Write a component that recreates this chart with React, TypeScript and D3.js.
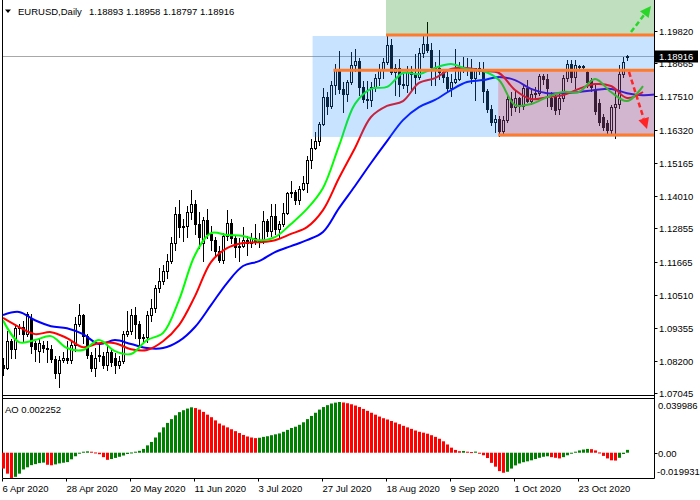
import React from 'react';
import * as d3 from 'd3';

// daily EURUSD bars, 6 Apr 2020 .. 9 Nov 2020 (index 0 = first bar)
const opens = [
  1.0805, 1.0795, 1.0890, 1.0860, 1.0935, 1.0938, 1.0915, 1.0970, 1.0880, 1.0855,
  1.0875, 1.0865, 1.0860, 1.0825, 1.0775, 1.0822, 1.0830, 1.0822, 1.0875, 1.0950,
  1.0980, 1.0905, 1.0840, 1.0795, 1.0840, 1.0837, 1.0805, 1.0850, 1.0830, 1.0805,
  1.0820, 1.0915, 1.0925, 1.0980, 1.0950, 1.0900, 1.0902, 1.0980, 1.1005, 1.1075,
  1.1100, 1.1135, 1.1170, 1.1235, 1.1335, 1.1290, 1.1295, 1.1345, 1.1370, 1.1300,
  1.1235, 1.1315, 1.1265, 1.1245, 1.1205, 1.1175, 1.1260, 1.1305, 1.1250, 1.1220,
  1.1222, 1.1245, 1.1233, 1.1250, 1.1240, 1.1245, 1.1310, 1.1275, 1.1330, 1.1285,
  1.1300, 1.1340, 1.1410, 1.1412, 1.1385, 1.1425, 1.1445, 1.1525, 1.1570, 1.1595,
  1.1655, 1.1750, 1.1717, 1.1790, 1.1848, 1.1778, 1.1760, 1.1800, 1.1860, 1.1875,
  1.1785, 1.1740, 1.1738, 1.1785, 1.1815, 1.1842, 1.1870, 1.1930, 1.1835, 1.1850,
  1.1795, 1.1792, 1.1835, 1.1830, 1.1820, 1.1905, 1.1935, 1.1915, 1.1855, 1.1850,
  1.1837, 1.1820, 1.1780, 1.1800, 1.1812, 1.1845, 1.1845, 1.1845, 1.1815, 1.1850,
  1.1840, 1.1770, 1.1705, 1.1660, 1.1670, 1.1630, 1.1668, 1.1740, 1.1712, 1.1745,
  1.1715, 1.1780, 1.1735, 1.1760, 1.1762, 1.1822, 1.1812, 1.1745, 1.1752, 1.1705,
  1.1745, 1.1815, 1.1865, 1.1818, 1.1858, 1.1856, 1.1836, 1.1808, 1.1772, 1.1727,
  1.1678, 1.1657, 1.1632, 1.1712, 1.1722, 1.1830, 1.18893,
];
const highs = [
  1.0830, 1.0925, 1.0895, 1.0950, 1.0950, 1.0960, 1.0990, 1.0985, 1.0890, 1.0895,
  1.0890, 1.0888, 1.0875, 1.0835, 1.0835, 1.0850, 1.0890, 1.0890, 1.0972, 1.1019,
  1.0985, 1.0915, 1.0850, 1.0865, 1.0875, 1.0850, 1.0870, 1.0865, 1.0845, 1.0835,
  1.0925, 1.0995, 1.1000, 1.1008, 1.0960, 1.0915, 1.0995, 1.1035, 1.1085, 1.1147,
  1.1155, 1.1195, 1.1255, 1.1360, 1.1384, 1.1320, 1.1363, 1.1422, 1.1385, 1.1345,
  1.1325, 1.1355, 1.1295, 1.1255, 1.1225, 1.1270, 1.1349, 1.1320, 1.1260, 1.1250,
  1.1290, 1.1260, 1.1270, 1.1300, 1.1270, 1.1346, 1.1320, 1.1370, 1.1370, 1.1310,
  1.1375, 1.1415, 1.1452, 1.1420, 1.1435, 1.1470, 1.1540, 1.1601, 1.1625, 1.1660,
  1.1781, 1.1765, 1.1805, 1.1865, 1.1909, 1.1800, 1.1810, 1.1908, 1.1916, 1.1885,
  1.1806, 1.1805, 1.1800, 1.1830, 1.1865, 1.1885, 1.1966, 1.1952, 1.1865, 1.1883,
  1.1830, 1.1859, 1.1858, 1.1900, 1.1920, 1.1965, 1.2011, 1.1937, 1.1870, 1.1915,
  1.1848, 1.1835, 1.1830, 1.1917, 1.1872, 1.1888, 1.1887, 1.1882, 1.1850, 1.1872,
  1.1872, 1.1775, 1.1720, 1.1685, 1.1680, 1.1683, 1.1752, 1.1765, 1.1770, 1.1750,
  1.1795, 1.1808, 1.1780, 1.1785, 1.1831, 1.1830, 1.1828, 1.1765, 1.1760, 1.1760,
  1.1825, 1.1880, 1.1880, 1.1880, 1.1862, 1.1860, 1.1842, 1.1815, 1.1790, 1.1740,
  1.1690, 1.1668, 1.1720, 1.1770, 1.1860, 1.1890, 1.18958,
];
const lows = [
  1.0769, 1.0790, 1.0830, 1.0830, 1.0915, 1.0890, 1.0905, 1.0845, 1.0817, 1.0815,
  1.0850, 1.0815, 1.0815, 1.0757, 1.0727, 1.0815, 1.0810, 1.0810, 1.0855, 1.0940,
  1.0880, 1.0830, 1.0782, 1.0766, 1.0820, 1.0795, 1.0786, 1.0800, 1.0775, 1.0795,
  1.0810, 1.0905, 1.0915, 1.0900, 1.0870, 1.0885, 1.0885, 1.0960, 1.0990, 1.1060,
  1.1090, 1.1110, 1.1165, 1.1210, 1.1255, 1.1240, 1.1255, 1.1320, 1.1265, 1.1215,
  1.1170, 1.1250, 1.1210, 1.1185, 1.1168, 1.1165, 1.1245, 1.1235, 1.1185, 1.1170,
  1.1220, 1.1190, 1.1220, 1.1230, 1.1220, 1.1235, 1.1260, 1.1260, 1.1265, 1.1250,
  1.1295, 1.1335, 1.1395, 1.1370, 1.1370, 1.1420, 1.1415, 1.1500, 1.1565, 1.1580,
  1.1650, 1.1690, 1.1708, 1.1760, 1.1762, 1.1696, 1.1735, 1.1793, 1.1840, 1.1754,
  1.1730, 1.1711, 1.1716, 1.1770, 1.1790, 1.1815, 1.1865, 1.1830, 1.1754, 1.1753,
  1.1780, 1.1766, 1.1772, 1.1762, 1.1812, 1.1890, 1.1907, 1.1789, 1.1790, 1.1812,
  1.1801, 1.1765, 1.1752, 1.1796, 1.1810, 1.1835, 1.1825, 1.1799, 1.1737, 1.1830,
  1.1730, 1.1695, 1.1650, 1.1626, 1.1612, 1.1622, 1.1660, 1.1685, 1.1700, 1.1695,
  1.1705, 1.1730, 1.1725, 1.1745, 1.1755, 1.1795, 1.1718, 1.1705, 1.1690, 1.1690,
  1.1735, 1.1805, 1.1800, 1.1780, 1.1850, 1.1850, 1.1785, 1.1770, 1.1690, 1.1650,
  1.1632, 1.1622, 1.1620, 1.1603, 1.1710, 1.1820, 1.18797,
];
const closes = [
  1.0795, 1.0890, 1.0860, 1.0935, 1.0938, 1.0915, 1.0985, 1.0870, 1.0860, 1.0880,
  1.0865, 1.0860, 1.0825, 1.0775, 1.0822, 1.0830, 1.0822, 1.0875, 1.0950, 1.0980,
  1.0905, 1.0840, 1.0795, 1.0830, 1.0837, 1.0805, 1.0850, 1.0815, 1.0805, 1.0820,
  1.0915, 1.0925, 1.0980, 1.0950, 1.0900, 1.0902, 1.0980, 1.1005, 1.1075, 1.1100,
  1.1135, 1.1170, 1.1235, 1.1335, 1.1290, 1.1295, 1.1345, 1.1370, 1.1300, 1.1255,
  1.1315, 1.1265, 1.1245, 1.1205, 1.1175, 1.1260, 1.1305, 1.1250, 1.1220, 1.1222,
  1.1245, 1.1233, 1.1250, 1.1240, 1.1245, 1.1310, 1.1275, 1.1330, 1.1285, 1.1300,
  1.1340, 1.1410, 1.1412, 1.1385, 1.1425, 1.1445, 1.1525, 1.1570, 1.1595, 1.1655,
  1.1750, 1.1717, 1.1790, 1.1848, 1.1778, 1.1760, 1.1800, 1.1860, 1.1875, 1.1785,
  1.1740, 1.1738, 1.1785, 1.1815, 1.1842, 1.1870, 1.1930, 1.1835, 1.1850, 1.1795,
  1.1792, 1.1835, 1.1830, 1.1820, 1.1905, 1.1935, 1.1915, 1.1855, 1.1850, 1.1837,
  1.1820, 1.1780, 1.1800, 1.1812, 1.1845, 1.1845, 1.1845, 1.1815, 1.1850, 1.1840,
  1.1770, 1.1705, 1.1660, 1.1670, 1.1630, 1.1668, 1.1740, 1.1712, 1.1745, 1.1715,
  1.1780, 1.1735, 1.1760, 1.1762, 1.1822, 1.1812, 1.1780, 1.1715, 1.1703, 1.1745,
  1.1815, 1.1865, 1.1818, 1.1860, 1.1855, 1.1854, 1.1801, 1.1784, 1.1700, 1.1660,
  1.1643, 1.1632, 1.1713, 1.1722, 1.1830, 1.1873, 1.18916,
];

// Awesome Oscillator, one value per bar
const aoValues = [
  -0.0125, -0.0165, -0.0199, -0.0190, -0.0165, -0.0132, -0.0115, -0.0098, -0.0090, -0.0082,
  -0.0078, -0.0095, -0.0099, -0.0092, -0.0084, -0.0079, -0.0074, -0.0052, -0.0028, -0.0004,
  0.0008, 0.0011, 0.0008, 0.0002, -0.0012, -0.0035, -0.0056, -0.0050, -0.0041, -0.0032,
  -0.0022, -0.0010, 0.0002, 0.0008, 0.0015, 0.0030, 0.0058, 0.0085, 0.0120, 0.0160,
  0.0200, 0.0235, 0.0265, 0.0295, 0.0320, 0.0335, 0.0348, 0.0358, 0.0352, 0.0340,
  0.0322, 0.0300, 0.0280, 0.0255, 0.0230, 0.0215, 0.0200, 0.0185, 0.0170, 0.0155,
  0.0140, 0.0128, 0.0120, 0.0115, 0.0118, 0.0125, 0.0130, 0.0138, 0.0145, 0.0152,
  0.0165, 0.0180, 0.0195, 0.0205, 0.0220, 0.0240, 0.0265, 0.0290, 0.0315, 0.0340,
  0.0360, 0.0375, 0.0388, 0.0395, 0.03999, 0.0396, 0.0390, 0.0382, 0.0372, 0.0360,
  0.0345, 0.0330, 0.0315, 0.0300, 0.0285, 0.0272, 0.0262, 0.0250, 0.0238, 0.0225,
  0.0212, 0.0200, 0.0188, 0.0175, 0.0165, 0.0158, 0.0150, 0.0138, 0.0125, 0.0110,
  0.0090, 0.0065, 0.0040, 0.0022, 0.0012, 0.0014, 0.0008, 0.0005, 0.0009, -0.0003,
  -0.0020, -0.0042, -0.0080, -0.0110, -0.0145, -0.0158, -0.0150, -0.0125, -0.0100, -0.0085,
  -0.0075, -0.0068, -0.0060, -0.0050, -0.0040, -0.0032, -0.0028, -0.0035, -0.0040, -0.0045,
  -0.0035, -0.0020, -0.0005, 0.0008, 0.0018, 0.0025, 0.0030, 0.0028, 0.0018, 0.0002,
  -0.0025, -0.0045, -0.0060, -0.0062, -0.0040, -0.0010, 0.002252,
];

// Alligator lines, read every 4th bar (they run a few bars past the last candle)
const lineStep = 4;
const jaw = [
  1.0980, 1.0991, 1.0962, 1.0941, 1.0934, 1.0913, 1.0878, 1.0892, 1.0878, 1.0864,
  1.0864, 1.0888, 1.0938, 1.1015, 1.1093, 1.1153, 1.1170, 1.1202, 1.1223, 1.1244,
  1.1273, 1.1357, 1.1435, 1.1516, 1.1593, 1.1667, 1.1713, 1.1738, 1.1773, 1.1801,
  1.1808, 1.1819, 1.1808, 1.1777, 1.1762, 1.1762, 1.1766, 1.1773, 1.1777, 1.1762,
  1.1755, 1.1759,
];
const teeth = [
  1.0970, 1.0938, 1.0913, 1.0920, 1.0899, 1.0867, 1.0881, 1.0881, 1.0860, 1.0857,
  1.0888, 1.0945, 1.1047, 1.1167, 1.1216, 1.1234, 1.1237, 1.1244, 1.1266, 1.1290,
  1.1350, 1.1463, 1.1569, 1.1678, 1.1717, 1.1734, 1.1798, 1.1815, 1.1847, 1.1851,
  1.1840, 1.1833, 1.1773, 1.1741, 1.1748, 1.1755, 1.1777, 1.1794, 1.1787, 1.1745,
  1.1766,
];
const lips = [
  1.0962, 1.0885, 1.0892, 1.0906, 1.0864, 1.0857, 1.0892, 1.0853, 1.0843, 1.0892,
  1.0917, 1.1033, 1.1192, 1.1269, 1.1262, 1.1259, 1.1244, 1.1255, 1.1301, 1.1354,
  1.1428, 1.1576, 1.1724, 1.1777, 1.1784, 1.1833, 1.1829, 1.1851, 1.1865, 1.1847,
  1.1840, 1.1808, 1.1720, 1.1724, 1.1748, 1.1766, 1.1766, 1.1812, 1.1766, 1.1734,
  1.1787,
];

const priceTicks = [1.1982, 1.18665, 1.1751, 1.1632, 1.15165, 1.1401, 1.12855, 1.11665, 1.1051, 1.09355, 1.082, 1.07045];
const dateLabels = ['6 Apr 2020', '28 Apr 2020', '20 May 2020', '11 Jun 2020', '3 Jul 2020', '27 Jul 2020', '18 Aug 2020', '9 Sep 2020', '1 Oct 2020', '23 Oct 2020'];
const dateBars = [0, 16, 32, 48, 64, 80, 96, 112, 128, 144];

// boxes drawn over the chart: start bar, top and bottom price
const boxStart = [95.75, 77.4, 123.8];
const boxHigh = [1.215, 1.19633, 1.18424];
const boxLow = [1.19668, 1.16076, 1.16145];
const boxFill = ['rgba(0,128,0,0.25)', 'rgba(30,144,255,0.25)', 'rgba(255,0,10,0.2)'];

// horizontal levels
const levelPrice = [1.19668, 1.18424, 1.16145];
const levelStart = [95.75, 82.6, 123.8];

// forecast arrows: [bar, price] from -> to
const arrowFrom = [[157, 1.19774], [156.5, 1.18365]];
const arrowTo = [[162, 1.2069], [161, 1.16356]];
const arrowColor = ['#2bd62b', '#ff2525'];

const font = '"Liberation Sans", Arial, sans-serif';
const fs = 9.5;

const x = d3.scaleLinear().domain([0, 156]).range([3, 627]);
const y = d3.scaleLinear().domain([1.07045, 1.1982]).range([393.3, 30.7]);
const yAo = d3.scaleLinear().domain([-0.019931, 0.039986]).range([478, 402]);

const right = 654.5;
const mainBottom = 395.5;
const aoTop = 398.5;
const aoBottom = 478.5;

const px = (i: number) => Math.round(x(i)) + 0.5;

const alligator = (vals: number[]) =>
  d3
    .line<number>()
    .x((_, k) => x(k * lineStep))
    .y((v) => y(v))
    .curve(d3.curveCatmullRom)(vals) as string;

const Arrow = ({ k }: { k: number }) => {
  const x1 = x(arrowFrom[k][0]);
  const y1 = y(arrowFrom[k][1]);
  const x2 = x(arrowTo[k][0]);
  const y2 = y(arrowTo[k][1]);
  const len = Math.hypot(x2 - x1, y2 - y1);
  const ux = (x2 - x1) / len;
  const uy = (y2 - y1) / len;
  const hl = 11;
  const hw = 5.5;
  const bx = x2 - ux * hl;
  const by = y2 - uy * hl;
  const head = `M${x2},${y2}L${bx - uy * hw},${by + ux * hw}L${bx + uy * hw},${by - ux * hw}Z`;
  return (
    <g>
      <line x1={x1} y1={y1} x2={bx} y2={by} stroke={arrowColor[k]} strokeWidth={2.5} strokeDasharray="5,3" />
      <path d={head} fill={arrowColor[k]} />
    </g>
  );
};

export default function App() {
  const last = closes[closes.length - 1];
  const yLast = Math.round(y(last)) + 0.5;

  return (
    <svg
      width={700}
      height={500}
      style={{ position: 'absolute', left: 0, top: 0, background: '#fff' }}
      fontFamily={font}
      fontSize={fs}
    >
      <defs>
        <clipPath id="mainClip">
          <rect x={3} y={0} width={right - 3} height={mainBottom} />
        </clipPath>
      </defs>

      <g clipPath="url(#mainClip)">
        {/* bid line */}
        <line x1={3} x2={right} y1={yLast} y2={yLast} stroke="#a8a8a8" />

        {/* candles */}
        {closes.map((c, i) => {
          const o = opens[i];
          const cx = px(i);
          const top = Math.round(y(Math.max(o, c))) + 0.5;
          const bot = Math.round(y(Math.min(o, c))) + 0.5;
          return (
            <g key={i}>
              <line x1={cx} x2={cx} y1={Math.round(y(highs[i]))} y2={Math.round(y(lows[i])) + 1} stroke="#000" />
              <rect x={cx - 1} y={top} width={2} height={Math.max(bot - top, 0)} fill={c >= o ? '#fff' : '#000'} stroke="#000" />
            </g>
          );
        })}

        {/* alligator */}
        <path d={alligator(jaw)} fill="none" stroke="#0000ff" strokeWidth={2} />
        <path d={alligator(teeth)} fill="none" stroke="#ff0000" strokeWidth={2} />
        <path d={alligator(lips)} fill="none" stroke="#00ff00" strokeWidth={2} />

        {/* boxes */}
        {boxStart.map((s, k) => (
          <rect
            key={k}
            x={x(s)}
            y={y(boxHigh[k])}
            width={right - x(s)}
            height={y(boxLow[k]) - y(boxHigh[k])}
            fill={boxFill[k]}
          />
        ))}

        {/* levels */}
        {levelPrice.map((p, k) => (
          <line key={k} x1={x(levelStart[k])} x2={right} y1={y(p)} y2={y(p)} stroke="#ff7a2a" strokeWidth={3} />
        ))}

        <Arrow k={0} />
        <Arrow k={1} />
      </g>

      {/* title */}
      <path d="M5,9.5L11,9.5L8,13Z" fill="#000" />
      <text x={18} y={14.5}>EURUSD,Daily</text>
      <text x={89} y={14.5}>1.18893 1.18958 1.18797 1.18916</text>

      {/* frames */}
      <line x1={2.5} x2={2.5} y1={0} y2={aoBottom} stroke="#000" />
      <line x1={right} x2={right} y1={0} y2={aoBottom} stroke="#000" />
      <line x1={2.5} x2={right} y1={mainBottom} y2={mainBottom} stroke="#000" />
      <line x1={2.5} x2={right} y1={aoTop} y2={aoTop} stroke="#000" />
      <line x1={2.5} x2={right} y1={aoBottom} y2={aoBottom} stroke="#000" />

      {/* price axis */}
      {priceTicks.map((p) => {
        const ty = Math.round(y(p)) + 0.5;
        return (
          <g key={p}>
            <line x1={right} x2={right + 3} y1={ty} y2={ty} stroke="#000" />
            <text x={659} y={ty + 3.5}>{p.toFixed(5)}</text>
          </g>
        );
      })}
      <rect x={655} y={yLast - 6} width={43} height={12} fill="#000" />
      <text x={659} y={yLast + 3.5} fill="#fff">{last.toFixed(5)}</text>

      {/* AO */}
      {aoValues.map((v, i) => {
        const up = i > 0 && v > aoValues[i - 1];
        const y0 = yAo(0);
        const y1 = yAo(v);
        return (
          <rect
            key={i}
            x={Math.round(x(i)) - 1}
            y={Math.min(y0, y1)}
            width={3}
            height={Math.max(Math.abs(y1 - y0), 1)}
            fill={up ? '#008000' : '#ff0000'}
          />
        );
      })}
      <text x={5} y={413}>AO 0.002252</text>
      <line x1={right} x2={right + 3} y1={Math.round(yAo(0)) + 0.5} y2={Math.round(yAo(0)) + 0.5} stroke="#000" />
      <text x={658} y={409}>0.039986</text>
      <text x={658} y={Math.round(yAo(0)) + 4}>0.00</text>
      <text x={657} y={475}>-0.019931</text>

      {/* time axis */}
      {dateBars.map((b, k) => {
        const tx = Math.round(x(b)) - 0.5;
        return (
          <g key={k}>
            <line x1={tx} x2={tx} y1={aoBottom} y2={aoBottom + 3} stroke="#000" />
            <text x={tx} y={492}>{dateLabels[k]}</text>
          </g>
        );
      })}
    </svg>
  );
}
